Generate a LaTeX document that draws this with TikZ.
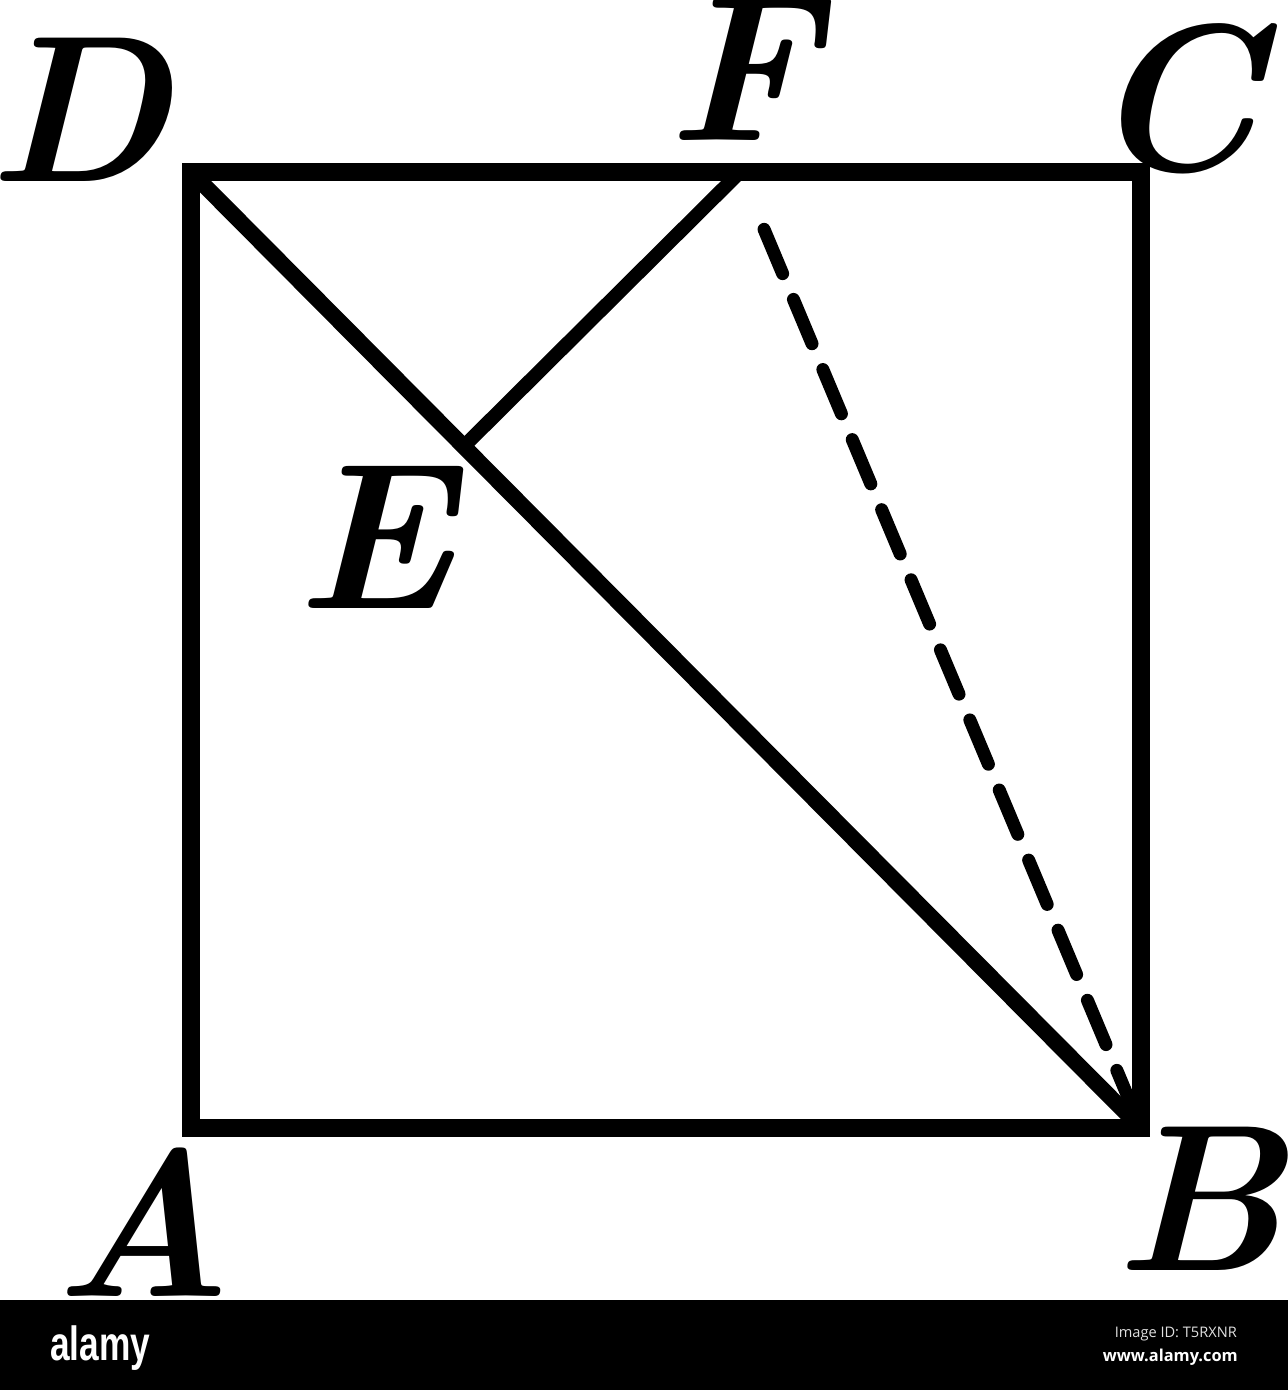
\documentclass[tikz,border=0pt]{standalone}
\usepackage{fontspec}
\newfontfamily\wmfont{Liberation Sans}
\newfontfamily\wmsmall{Open Sans}
\usetikzlibrary{calc}
\tikzset{
  sqline/.style={line width=18pt, line join=miter, line cap=butt},
  diagline/.style={line width=16pt, line cap=butt},
  perpline/.style={line width=14pt, line cap=butt},
  dashline/.style={line width=13pt, line cap=round, dash pattern=on 48pt off 28pt},
  lbl/.style={inner sep=0pt, anchor=base, font=\fontsize{209}{209}\selectfont\bfseries\itshape},
  wm/.style={inner sep=0pt, text=white}
}
\begin{document}
\begin{tikzpicture}[x=1pt,y=-1pt]
\useasboundingbox (0,0) rectangle (1288,1390);
\fill[white] (0,0) rectangle (1288,1390);
% points
\coordinate (D) at (191,172);
\coordinate (C) at (1141,172);
\coordinate (B) at (1141,1128);
\coordinate (A) at (191,1128);
\coordinate (F) at (740,172);
\coordinate (E) at ($(D)!(F)!(B)$);
\coordinate (Fd) at ($(F)!0.06!(B)$);
\coordinate (Bd) at ($(F)!0.975!(B)$);
% square
\draw[sqline] (A) -- (B) -- (C) -- (D) -- cycle;
% diagonal
\draw[diagline] (D) -- (B);
% perpendicular
\draw[perpline] (E) -- (F);
% dashed
\draw[dashline] (Fd) -- (Bd);
% labels
\node[lbl] (lD) at (79,181) {D};
\node[lbl] (lF) at (742,140) {F};
\node[lbl] (lC) at (1174,170) {C};
\node[lbl] (lE) at (375,608) {E};
\node[lbl] (lA) at (143,1296) {A};
\node[lbl] (lB) at (1200,1270) {B};
% watermark bar
\fill[black] (0,1300) rectangle (1288,1390);
\node[wm, anchor=base west] (wm1) at (50,1360) {\scalebox{0.735}[1]{\wmfont\fontsize{48}{48}\selectfont\bfseries alamy}};
\node[wm, anchor=base east, text=black!12] (wm2) at (1237,1337) {\resizebox{122pt}{!}{\wmsmall\fontsize{15}{15}\selectfont Image ID: T5RXNR}};
\node[wm, anchor=base east] (wm3) at (1238,1361) {\resizebox{135pt}{!}{\wmsmall\fontsize{17}{17}\selectfont\bfseries www.alamy.com}};
\end{tikzpicture}
\end{document}
